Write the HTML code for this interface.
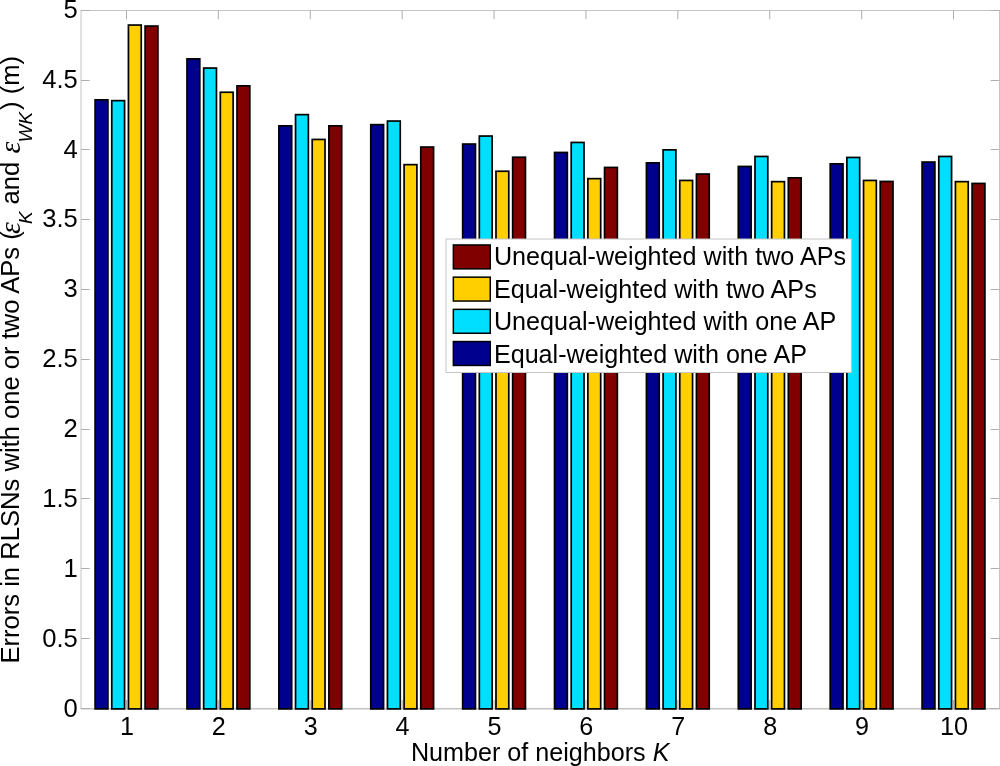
<!DOCTYPE html><html><head><meta charset="utf-8"><style>html,body{margin:0;padding:0;background:#fff;}svg{display:block}text{font-family:"Liberation Sans",Arial,Helvetica,sans-serif;fill:#000}</style></head><body>
<svg width="1000" height="766" viewBox="0 0 1000 766">
<rect x="0" y="0" width="1000" height="766" fill="#fff"/>
<path d="M81.0 10.5V708.5M999.5 10.5V708.5M80.5 10.5H1000" stroke="#c4c4c4" stroke-width="1" fill="none"/>
<path d="M80.5 708.75H1000" stroke="#c4c4c4" stroke-width="1.5" fill="none"/>
<path d="M81.0 708.50H89.8M999.5 708.50H990.7M81.0 638.50H89.8M999.5 638.50H990.7M81.0 568.50H89.8M999.5 568.50H990.7M81.0 498.50H89.8M999.5 498.50H990.7M81.0 429.50H89.8M999.5 429.50H990.7M81.0 359.50H89.8M999.5 359.50H990.7M81.0 289.50H89.8M999.5 289.50H990.7M81.0 219.50H89.8M999.5 219.50H990.7M81.0 149.50H89.8M999.5 149.50H990.7M81.0 80.50H89.8M999.5 80.50H990.7M81.0 10.50H89.8M999.5 10.50H990.7M126.50 10.5V19.3M126.50 708.7V699.9000000000001M218.39 10.5V19.3M218.39 708.7V699.9000000000001M310.28 10.5V19.3M310.28 708.7V699.9000000000001M402.17 10.5V19.3M402.17 708.7V699.9000000000001M494.06 10.5V19.3M494.06 708.7V699.9000000000001M585.94 10.5V19.3M585.94 708.7V699.9000000000001M677.83 10.5V19.3M677.83 708.7V699.9000000000001M769.72 10.5V19.3M769.72 708.7V699.9000000000001M861.61 10.5V19.3M861.61 708.7V699.9000000000001M953.50 10.5V19.3M953.50 708.7V699.9000000000001" stroke="#b0b0b0" stroke-width="1" fill="none"/>
<rect x="95.10" y="99.85" width="12.8" height="609.05" fill="#00008f" stroke="#000" stroke-width="1.7"/>
<rect x="111.77" y="100.65" width="12.8" height="608.25" fill="#00dfff" stroke="#000" stroke-width="1.7"/>
<rect x="128.43" y="25.05" width="12.8" height="683.85" fill="#ffcf00" stroke="#000" stroke-width="1.7"/>
<rect x="145.10" y="26.05" width="12.8" height="682.85" fill="#800000" stroke="#000" stroke-width="1.7"/>
<rect x="186.99" y="58.85" width="12.8" height="650.05" fill="#00008f" stroke="#000" stroke-width="1.7"/>
<rect x="203.66" y="68.05" width="12.8" height="640.85" fill="#00dfff" stroke="#000" stroke-width="1.7"/>
<rect x="220.32" y="92.25" width="12.8" height="616.65" fill="#ffcf00" stroke="#000" stroke-width="1.7"/>
<rect x="236.99" y="85.85" width="12.8" height="623.05" fill="#800000" stroke="#000" stroke-width="1.7"/>
<rect x="278.88" y="125.85" width="12.8" height="583.05" fill="#00008f" stroke="#000" stroke-width="1.7"/>
<rect x="295.55" y="114.65" width="12.8" height="594.25" fill="#00dfff" stroke="#000" stroke-width="1.7"/>
<rect x="312.21" y="139.45" width="12.8" height="569.45" fill="#ffcf00" stroke="#000" stroke-width="1.7"/>
<rect x="328.88" y="125.85" width="12.8" height="583.05" fill="#800000" stroke="#000" stroke-width="1.7"/>
<rect x="370.77" y="124.65" width="12.8" height="584.25" fill="#00008f" stroke="#000" stroke-width="1.7"/>
<rect x="387.44" y="121.05" width="12.8" height="587.85" fill="#00dfff" stroke="#000" stroke-width="1.7"/>
<rect x="404.10" y="164.65" width="12.8" height="544.25" fill="#ffcf00" stroke="#000" stroke-width="1.7"/>
<rect x="420.77" y="147.05" width="12.8" height="561.85" fill="#800000" stroke="#000" stroke-width="1.7"/>
<rect x="462.66" y="144.05" width="12.8" height="564.85" fill="#00008f" stroke="#000" stroke-width="1.7"/>
<rect x="479.33" y="136.05" width="12.8" height="572.85" fill="#00dfff" stroke="#000" stroke-width="1.7"/>
<rect x="495.99" y="171.25" width="12.8" height="537.65" fill="#ffcf00" stroke="#000" stroke-width="1.7"/>
<rect x="512.66" y="157.25" width="12.8" height="551.65" fill="#800000" stroke="#000" stroke-width="1.7"/>
<rect x="554.54" y="152.45" width="12.8" height="556.45" fill="#00008f" stroke="#000" stroke-width="1.7"/>
<rect x="571.21" y="142.45" width="12.8" height="566.45" fill="#00dfff" stroke="#000" stroke-width="1.7"/>
<rect x="587.88" y="178.65" width="12.8" height="530.25" fill="#ffcf00" stroke="#000" stroke-width="1.7"/>
<rect x="604.54" y="167.45" width="12.8" height="541.45" fill="#800000" stroke="#000" stroke-width="1.7"/>
<rect x="646.43" y="162.85" width="12.8" height="546.05" fill="#00008f" stroke="#000" stroke-width="1.7"/>
<rect x="663.10" y="149.85" width="12.8" height="559.05" fill="#00dfff" stroke="#000" stroke-width="1.7"/>
<rect x="679.76" y="180.45" width="12.8" height="528.45" fill="#ffcf00" stroke="#000" stroke-width="1.7"/>
<rect x="696.43" y="174.05" width="12.8" height="534.85" fill="#800000" stroke="#000" stroke-width="1.7"/>
<rect x="738.32" y="166.45" width="12.8" height="542.45" fill="#00008f" stroke="#000" stroke-width="1.7"/>
<rect x="754.99" y="156.45" width="12.8" height="552.45" fill="#00dfff" stroke="#000" stroke-width="1.7"/>
<rect x="771.65" y="181.65" width="12.8" height="527.25" fill="#ffcf00" stroke="#000" stroke-width="1.7"/>
<rect x="788.32" y="177.85" width="12.8" height="531.05" fill="#800000" stroke="#000" stroke-width="1.7"/>
<rect x="830.21" y="163.85" width="12.8" height="545.05" fill="#00008f" stroke="#000" stroke-width="1.7"/>
<rect x="846.88" y="157.45" width="12.8" height="551.45" fill="#00dfff" stroke="#000" stroke-width="1.7"/>
<rect x="863.54" y="180.45" width="12.8" height="528.45" fill="#ffcf00" stroke="#000" stroke-width="1.7"/>
<rect x="880.21" y="181.45" width="12.8" height="527.45" fill="#800000" stroke="#000" stroke-width="1.7"/>
<rect x="922.10" y="162.05" width="12.8" height="546.85" fill="#00008f" stroke="#000" stroke-width="1.7"/>
<rect x="938.77" y="156.45" width="12.8" height="552.45" fill="#00dfff" stroke="#000" stroke-width="1.7"/>
<rect x="955.43" y="181.65" width="12.8" height="527.25" fill="#ffcf00" stroke="#000" stroke-width="1.7"/>
<rect x="972.10" y="183.45" width="12.8" height="525.45" fill="#800000" stroke="#000" stroke-width="1.7"/>
<text x="77.8" y="716.55" font-size="25.6" text-anchor="end">0</text>
<text x="77.8" y="646.67" font-size="25.6" text-anchor="end">0.5</text>
<text x="77.8" y="576.80" font-size="25.6" text-anchor="end">1</text>
<text x="77.8" y="506.93" font-size="25.6" text-anchor="end">1.5</text>
<text x="77.8" y="437.05" font-size="25.6" text-anchor="end">2</text>
<text x="77.8" y="367.18" font-size="25.6" text-anchor="end">2.5</text>
<text x="77.8" y="297.30" font-size="25.6" text-anchor="end">3</text>
<text x="77.8" y="227.43" font-size="25.6" text-anchor="end">3.5</text>
<text x="77.8" y="157.55" font-size="25.6" text-anchor="end">4</text>
<text x="77.8" y="87.67" font-size="25.6" text-anchor="end">4.5</text>
<text x="77.8" y="17.80" font-size="25.6" text-anchor="end">5</text>
<text x="126.90" y="734.5" font-size="25.15" text-anchor="middle">1</text>
<text x="218.79" y="734.5" font-size="25.15" text-anchor="middle">2</text>
<text x="310.68" y="734.5" font-size="25.15" text-anchor="middle">3</text>
<text x="402.57" y="734.5" font-size="25.15" text-anchor="middle">4</text>
<text x="494.46" y="734.5" font-size="25.15" text-anchor="middle">5</text>
<text x="586.34" y="734.5" font-size="25.15" text-anchor="middle">6</text>
<text x="678.23" y="734.5" font-size="25.15" text-anchor="middle">7</text>
<text x="770.12" y="734.5" font-size="25.15" text-anchor="middle">8</text>
<text x="862.01" y="734.5" font-size="25.15" text-anchor="middle">9</text>
<text x="953.90" y="734.5" font-size="25.15" text-anchor="middle">10</text>
<text x="540.20" y="760.9" font-size="25.15" text-anchor="middle">Number of neighbors <tspan font-style="italic">K</tspan></text>
<g transform="rotate(-90)">
<text x="-663.6" y="18.7" font-size="25.6">Errors in RLSNs with one or two APs (</text>
<text x="-234.0" y="20.0" font-size="30.0" font-style="italic" style="font-family:'Liberation Serif',serif">ε</text>
<text x="-224.0" y="31.8" font-size="19.0" font-style="italic">K</text>
<text x="-204.5" y="18.7" font-size="25.6">and</text>
<text x="-153.5" y="20.0" font-size="30.0" font-style="italic" style="font-family:'Liberation Serif',serif">ε</text>
<text x="-142.5" y="31.8" font-size="19.0" font-style="italic">WK</text>
<text x="-110.0" y="18.7" font-size="25.6">) (m)</text>
</g>
<rect x="446" y="239.0" width="405.40" height="133.50" fill="#fff" stroke="#c4c4c4" stroke-width="1"/>
<rect x="453.35" y="244.95" width="36.9" height="23.9" fill="#800000" stroke="#000" stroke-width="1.5"/>
<text x="493.9" y="265.10" font-size="25.15">Unequal-weighted with two APs</text>
<rect x="453.35" y="277.15" width="36.9" height="23.9" fill="#ffcf00" stroke="#000" stroke-width="1.5"/>
<text x="493.9" y="297.65" font-size="25.15">Equal-weighted with two APs</text>
<rect x="453.35" y="309.35" width="36.9" height="23.9" fill="#00dfff" stroke="#000" stroke-width="1.5"/>
<text x="493.9" y="330.20" font-size="25.15">Unequal-weighted with one AP</text>
<rect x="453.35" y="341.55" width="36.9" height="23.9" fill="#00008f" stroke="#000" stroke-width="1.5"/>
<text x="493.9" y="362.75" font-size="25.15">Equal-weighted with one AP</text>
</svg></body></html>
